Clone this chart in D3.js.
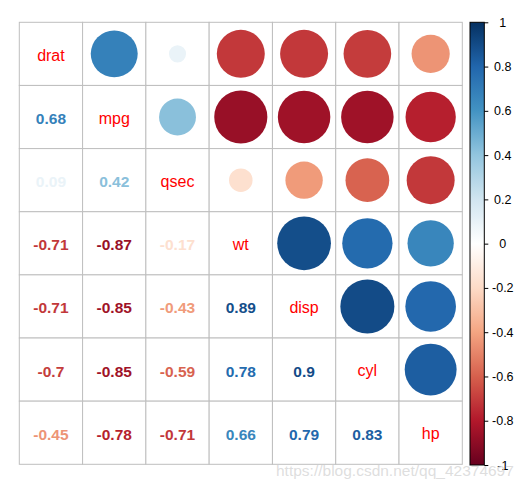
<!DOCTYPE html>
<html>
<head>
<meta charset="utf-8">
<script src="https://cdn.jsdelivr.net/npm/d3@7"></script>
<style>
  body { margin: 0; background: #fff; }
  svg { display: block; }
</style>
</head>
<body>
<svg id="chart"></svg>
<script>
// variables in corrplot order
const vars = ["drat", "mpg", "qsec", "wt", "disp", "cyl", "hp"];

// lower triangle correlations, row by row (row i has i values)
const lowerVals = [
  [],
  [0.68],
  [0.09, 0.42],
  [-0.71, -0.87, -0.17],
  [-0.71, -0.85, -0.43, 0.89],
  [-0.7, -0.85, -0.59, 0.78, 0.9],
  [-0.45, -0.78, -0.71, 0.66, 0.79, 0.83]
];

const legendTicks = [1, 0.8, 0.6, 0.4, 0.2, 0, -0.2, -0.4, -0.6, -0.8, -1];
const paletteCols = ["#67001F", "#B2182B", "#D6604D", "#F4A582", "#FDDBC7", "#FFFFFF",
                     "#D1E5F0", "#92C5DE", "#4393C3", "#2166AC", "#053061"];

const width = 528, height = 488;
const svg = d3.select("#chart").attr("width", width).attr("height", height);

const gridLeft = 19.3, gridTop = 22.3, gridW = 443, gridH = 442;

const x = d3.scaleBand().domain(vars).range([gridLeft, gridLeft + gridW]).padding(0);
const y = d3.scaleBand().domain(vars).range([gridTop, gridTop + gridH]).padding(0);

const color = d3.scaleLinear()
  .domain(d3.range(11).map(i => -1 + i * 0.2))
  .range(paletteCols)
  .interpolate(d3.interpolateRgb);

// full matrix from lower triangle
const cells = [];
vars.forEach((rv, i) => {
  vars.forEach((cv, j) => {
    let v;
    if (i === j) v = 1;
    else if (j < i) v = lowerVals[i][j];
    else v = lowerVals[j][i];
    cells.push({ row: rv, col: cv, i, j, v });
  });
});

// grid
svg.append("g").selectAll("rect")
  .data(cells)
  .enter().append("rect")
  .attr("x", d => x(d.col))
  .attr("y", d => y(d.row))
  .attr("width", x.bandwidth())
  .attr("height", y.bandwidth())
  .attr("fill", "white")
  .attr("stroke", "#bebebe")
  .attr("stroke-width", 1);

// upper: circles
svg.append("g").selectAll("circle")
  .data(cells.filter(d => d.j > d.i))
  .enter().append("circle")
  .attr("cx", d => x(d.col) + x.bandwidth() / 2)
  .attr("cy", d => y(d.row) + y.bandwidth() / 2)
  .attr("r", d => 0.45 * Math.sqrt(Math.abs(d.v)) * x.bandwidth())
  .attr("fill", d => color(d.v));

// lower: numbers
svg.append("g").selectAll("text")
  .data(cells.filter(d => d.j < d.i))
  .enter().append("text")
  .attr("x", d => x(d.col) + x.bandwidth() / 2)
  .attr("y", d => y(d.row) + y.bandwidth() / 2)
  .attr("dy", "0.45em")
  .attr("text-anchor", "middle")
  .attr("font-family", "Liberation Sans, Arial, sans-serif")
  .attr("font-weight", "bold")
  .attr("font-size", 15.5)
  .attr("fill", d => color(d.v))
  .text(d => String(d.v));

// diagonal: labels
svg.append("g").selectAll("text")
  .data(cells.filter(d => d.j === d.i))
  .enter().append("text")
  .attr("x", d => x(d.col) + x.bandwidth() / 2)
  .attr("y", d => y(d.row) + y.bandwidth() / 2)
  .attr("dy", "0.42em")
  .attr("text-anchor", "middle")
  .attr("font-family", "Liberation Sans, Arial, sans-serif")
  .attr("font-size", 16)
  .attr("fill", "red")
  .text(d => d.row);

// colour legend
const barX = 470, barW = 14.3, barTop = 22.3, barBot = 465;
const ly = d3.scaleLinear().domain([1, -1]).range([barTop, barBot]);

const grad = svg.append("defs").append("linearGradient")
  .attr("id", "cbar").attr("x1", 0).attr("y1", 0).attr("x2", 0).attr("y2", 1);
d3.range(0, 1.0001, 0.02).forEach(t => {
  grad.append("stop").attr("offset", t).attr("stop-color", color(1 - 2 * t));
});

svg.append("rect")
  .attr("x", barX).attr("y", barTop)
  .attr("width", barW).attr("height", barBot - barTop)
  .attr("fill", "url(#cbar)")
  .attr("stroke", "black").attr("stroke-width", 1);

const axis = d3.axisRight(ly).tickValues(legendTicks).tickSize(4).tickPadding(0)
  .tickFormat(d => String(d));
const ag = svg.append("g").attr("transform", `translate(${barX + barW},0)`).call(axis);
ag.select(".domain").remove();
ag.selectAll("line").attr("stroke", "black");
ag.selectAll("text")
  .attr("x", 18.5)
  .attr("text-anchor", "middle")
  .attr("font-family", "Liberation Sans, Arial, sans-serif")
  .attr("font-size", 12.5)
  .attr("fill", "black");

// watermark
svg.append("text")
  .attr("x", 276).attr("y", 475.5)
  .attr("font-family", "Liberation Sans, Arial, sans-serif")
  .attr("font-size", 15.5)
  .attr("fill", "#d8d8d8")
  .attr("fill-opacity", 0.85)
  .text("https://blog.csdn.net/qq_42374697");
</script>
</body>
</html>
